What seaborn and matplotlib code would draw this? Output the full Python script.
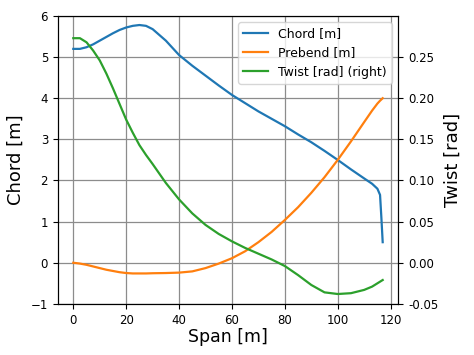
import matplotlib
matplotlib.use("Agg")
import matplotlib.pyplot as plt
import seaborn as sns
import pandas as pd

# spanwise stations [m]
span = [0, 2.5, 5, 7.5, 10, 12.5, 15, 17.5, 20, 22.5, 25, 27.5, 30, 35, 40, 45,
        50, 55, 60, 65, 70, 75, 80, 85, 90, 95, 100, 105, 110, 113, 115, 116,
        116.5, 117]

chord = [5.20, 5.20, 5.24, 5.31, 5.40, 5.49, 5.58, 5.66, 5.72, 5.76, 5.78, 5.76,
         5.68, 5.40, 5.05, 4.79, 4.55, 4.31, 4.08, 3.88, 3.68, 3.50, 3.32, 3.12,
         2.93, 2.72, 2.50, 2.27, 2.05, 1.92, 1.80, 1.65, 1.10, 0.50]

prebend = [0.0, -0.02, -0.05, -0.09, -0.13, -0.17, -0.20, -0.23, -0.25, -0.26,
           -0.26, -0.26, -0.255, -0.25, -0.24, -0.21, -0.13, -0.02, 0.11, 0.28,
           0.50, 0.75, 1.04, 1.35, 1.70, 2.08, 2.50, 2.95, 3.42, 3.70, 3.87,
           3.94, 3.97, 4.00]

twist = [0.273, 0.273, 0.268, 0.258, 0.246, 0.230, 0.212, 0.193, 0.174, 0.158,
         0.143, 0.131, 0.120, 0.097, 0.077, 0.060, 0.046, 0.035, 0.026, 0.018,
         0.011, 0.004, -0.004, -0.015, -0.027, -0.036, -0.038, -0.037, -0.033,
         -0.029, -0.025, -0.023, -0.022, -0.021]

twist_ticks = [-0.05, 0.00, 0.05, 0.10, 0.15, 0.20, 0.25]

df = pd.DataFrame({'span': span, 'chord': chord, 'prebend': prebend, 'twist': twist})
colors = sns.color_palette('tab10')

fig, ax = plt.subplots(figsize=(4.74, 3.55), dpi=100)
fig.subplots_adjust(left=0.122, right=0.840, top=0.955, bottom=0.144)

sns.lineplot(data=df, x='span', y='chord', ax=ax, color=colors[0], lw=1.6, label='Chord [m]', legend=False)
sns.lineplot(data=df, x='span', y='prebend', ax=ax, color=colors[1], lw=1.6, label='Prebend [m]', legend=False)
ax2 = ax.twinx()
sns.lineplot(data=df, x='span', y='twist', ax=ax2, color=colors[2], lw=1.6, label='Twist [rad] (right)', legend=False)

ax.set_ylim(-1, 6)
ax2.set_ylim(-0.05, 0.30)
ax2.set_yticks(twist_ticks)
ax2.set_yticklabels([f'{t:.2f}' for t in twist_ticks])
ax.set_xticks([0, 20, 40, 60, 80, 100, 120])

ax.grid(True, color='#8c8c8c', lw=0.9)
ax.set_axisbelow(True)
ax.set_xlabel('Span [m]', fontsize=12.5, labelpad=1)
ax.set_ylabel('Chord [m]', fontsize=13)
ax2.set_ylabel('Twist [rad]', fontsize=13)
ax.tick_params(labelsize=8.5)
ax2.tick_params(labelsize=8.5)

h1, l1 = ax.get_legend_handles_labels()
h2, l2 = ax2.get_legend_handles_labels()
ax2.legend(h1 + h2, l1 + l2, loc='upper right', fontsize=9)

fig.savefig('out.png', dpi=100)
